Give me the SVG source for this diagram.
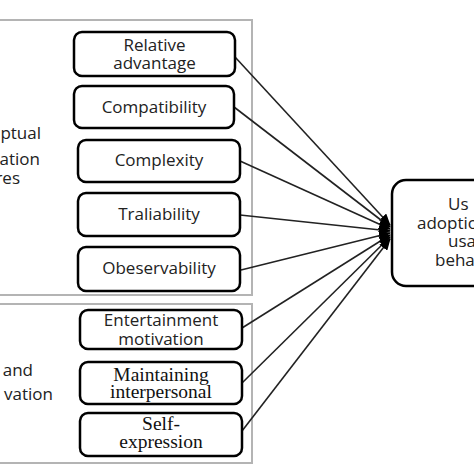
<svg xmlns="http://www.w3.org/2000/svg" width="474" height="474" viewBox="0 0 474 474">
<style>
.grp{fill:none;stroke:#b4b4b4;stroke-width:2}
.box{fill:#fff;stroke:#000;stroke-width:2.5}
.t{font-family:"Open Sans","Noto Sans",sans-serif;font-size:17px;fill:#222;text-anchor:middle}
.ts{font-family:"Liberation Serif","Times New Roman",serif;font-size:19.5px;fill:#111;text-anchor:middle}
.tl{font-family:"Open Sans","Noto Sans",sans-serif;font-size:17px;fill:#222;text-anchor:end}
.tr{font-family:"Open Sans","Noto Sans",sans-serif;font-size:17px;fill:#222;text-anchor:start}
.c{stroke:#222;stroke-width:1.6;fill:none;marker-end:url(#ah)}
</style>
<defs>
<marker id="ah" markerUnits="userSpaceOnUse" markerWidth="12" markerHeight="10" refX="11" refY="5" orient="auto">
<path d="M0,0 L12,5 L0,10 Z" fill="#000"/>
</marker>
</defs>
<rect width="474" height="474" fill="#fff"/>
<g id="group-innovation">
<rect class="grp" x="-2" y="20" width="254" height="275"/>
<text class="tl" x="41" y="139">ptual</text>
<text class="tl" x="40" y="165">ation</text>
<text class="tl" x="20" y="184">res</text>
</g>
<g id="group-motivation">
<rect class="grp" x="-2" y="304" width="254" height="159"/>
<text class="tl" x="33" y="376">and</text>
<text class="tl" x="53" y="400">vation</text>
</g>
<g id="connectors">
<line class="c" x1="235" y1="57" x2="390" y2="225"/>
<line class="c" x1="234" y1="107" x2="390" y2="227"/>
<line class="c" x1="240" y1="161" x2="390" y2="229"/>
<line class="c" x1="240" y1="215" x2="390" y2="231"/>
<line class="c" x1="241" y1="270" x2="390" y2="233"/>
<line class="c" x1="242" y1="328" x2="390" y2="235"/>
<line class="c" x1="242" y1="383" x2="390" y2="237"/>
<line class="c" x1="242" y1="431" x2="390" y2="239"/>
</g>
<g id="node-relative-advantage">
<rect class="box" x="74" y="32" width="161" height="44" rx="8"/>
<text class="t" x="154.5" y="51">Relative</text>
<text class="t" x="154.5" y="69">advantage</text>
</g>
<g id="node-compatibility">
<rect class="box" x="74" y="86" width="160" height="42" rx="8"/>
<text class="t" x="154" y="113">Compatibility</text>
</g>
<g id="node-complexity">
<rect class="box" x="78" y="140" width="162" height="42" rx="8"/>
<text class="t" x="159" y="166">Complexity</text>
</g>
<g id="node-traliability">
<rect class="box" x="78" y="193" width="162" height="43" rx="8"/>
<text class="t" x="159" y="220">Traliability</text>
</g>
<g id="node-obeservability">
<rect class="box" x="78" y="247" width="162" height="44" rx="8"/>
<text class="t" x="159" y="274">Obeservability</text>
</g>
<g id="node-entertainment">
<rect class="box" x="80" y="310" width="162" height="39" rx="8"/>
<text class="t" x="161" y="326">Entertainment</text>
<text class="t" x="161" y="345">motivation</text>
</g>
<g id="node-maintaining">
<rect class="box" x="80" y="362" width="162" height="42" rx="8"/>
<text class="ts" x="161" y="381">Maintaining</text>
<text class="ts" x="161" y="398">interpersonal</text>
</g>
<g id="node-self-expression">
<rect class="box" x="80" y="413" width="162" height="43" rx="8"/>
<text class="ts" x="161" y="430">Self-</text>
<text class="ts" x="161" y="448">expression</text>
</g>
<g id="node-usage">
<rect class="box" x="392" y="180" width="100" height="106" rx="14"/>
<text class="tr" x="448" y="210">Us</text>
<text class="tr" x="417" y="229">adoptio</text>
<text class="tr" x="448" y="247">usa</text>
<text class="tr" x="435" y="266">beha</text>
</g>
</svg>
